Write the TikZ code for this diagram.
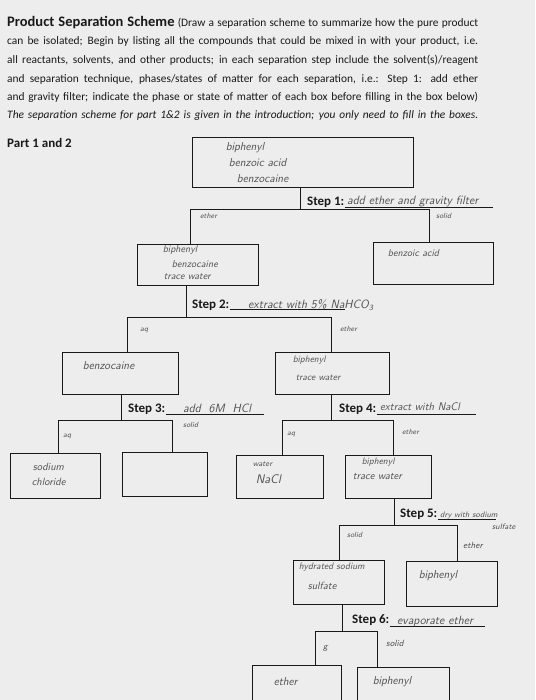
\documentclass[tikz,border=0pt]{standalone}
\usepackage{fontspec}
\setmainfont{Carlito}
\usetikzlibrary{calc}
\definecolor{hartie}{gray}{0.93}
\definecolor{creion}{gray}{0.32}
\definecolor{cerneala}{gray}{0.10}
\tikzset{
  cutie/.style    = {draw=cerneala, line width=0.9pt, inner sep=0pt},
  linie/.style    = {draw=cerneala, line width=0.9pt},
  sublinie/.style = {draw=cerneala, line width=0.7pt},
  rand/.style     = {font=\fontsize{11.4}{13}\selectfont, text=cerneala, inner sep=0pt, anchor=base west},
  pas/.style      = {font=\fontsize{13}{15}\selectfont\bfseries, text=cerneala, inner sep=0pt, anchor=base west},
  scris/.style    = {font=\fontsize{10}{12}\sffamily\itshape\selectfont, text=creion, inner sep=0pt, anchor=west},
  mic/.style      = {scris, font=\fontsize{7.5}{9}\sffamily\itshape\selectfont}
}
\begin{document}
\begin{tikzpicture}[x=1pt, y=-1pt]
  \useasboundingbox (0,0) rectangle (535,700);
  \clip (0,0) rectangle (535,700);
  \fill[hartie] (0,0) rectangle (535,700);

  % antet
  \node[rand] (r1) at (7,27) {\makebox[471pt][s]{{\fontsize{14.5}{16}\selectfont\bfseries Product Separation Scheme} (Draw a separation scheme to summarize how the pure product}};
  \node[rand] (r2) at (7,45) {\makebox[471pt][s]{can be isolated; Begin by listing all the compounds that could be mixed in with your product, i.e.}};
  \node[rand] (r3) at (7,64) {\makebox[471pt][s]{all reactants, solvents, and other products; in each separation step include the solvent(s)/reagent}};
  \node[rand] (r4) at (7,83) {\makebox[471pt][s]{and separation technique, phases/states of matter for each separation, i.e.: Step 1: add ether}};
  \node[rand] (r5) at (7,101) {\makebox[471pt][s]{and gravity filter; indicate the phase or state of matter of each box before filling in the box below)}};
  \node[rand] (r6) at (7,119) {\makebox[471pt][s]{\itshape The separation scheme for part 1\&2 is given in the introduction; you only need to fill in the boxes.}};
  \node[rand, font=\fontsize{13}{15}\selectfont\bfseries] (parte) at (7,148) {Part 1 and 2};

  % cutii
  \node[cutie, minimum width=221, minimum height=50] (amestec) at (302.5,162) {};
  \node[cutie, minimum width=121, minimum height=41] (eter1) at (197.5,264.5) {};
  \node[cutie, minimum width=120, minimum height=42] (acid) at (433,263) {};
  \node[cutie, minimum width=116, minimum height=42] (benzo) at (120,373) {};
  \node[cutie, minimum width=114, minimum height=42] (bifenil1) at (332,373) {};
  \node[cutie, minimum width=90, minimum height=45] (clorura) at (55,475.5) {};
  \node[cutie, minimum width=85, minimum height=44] (gol) at (164.5,474) {};
  \node[cutie, minimum width=87, minimum height=43] (apa) at (279.5,476.5) {};
  \node[cutie, minimum width=86, minimum height=43] (bifenil2) at (388,476.5) {};
  \node[cutie, minimum width=91, minimum height=44] (sulfat) at (338.5,582) {};
  \node[cutie, minimum width=91, minimum height=45] (bifenil3) at (451.5,583.5) {};
  \node[cutie, minimum width=89, minimum height=47] (eter2) at (296.5,688.5) {};
  \node[cutie, minimum width=92, minimum height=47] (bifenil4) at (403,690.5) {};

  % ramificatii
  \coordinate (j1) at (300,209);
  \coordinate (j1a) at (190,209);
  \coordinate (j1b) at (429,209);
  \draw[linie] (j1 |- amestec.south) -- (j1);
  \draw[linie] (j1a |- eter1.north) -- (j1a) -- (j1b) -- (j1b |- acid.north);

  \coordinate (j2) at (186,317);
  \coordinate (j2a) at (127,317);
  \coordinate (j2b) at (331,317);
  \draw[linie] (j2 |- eter1.south) -- (j2);
  \draw[linie] (j2a |- benzo.north) -- (j2a) -- (j2b) -- (j2b |- bifenil1.north);

  \coordinate (j3) at (121,420);
  \coordinate (j3a) at (58,420);
  \coordinate (j3b) at (172,420);
  \draw[linie] (j3 |- benzo.south) -- (j3);
  \draw[linie] (j3a |- clorura.north) -- (j3a) -- (j3b) -- (j3b |- gol.north);

  \coordinate (j4) at (331,420);
  \coordinate (j4a) at (282,420);
  \coordinate (j4b) at (393,420);
  \draw[linie] (j4 |- bifenil1.south) -- (j4);
  \draw[linie] (j4a |- apa.north) -- (j4a) -- (j4b) -- (j4b |- bifenil2.north);

  \coordinate (j5) at (394,525);
  \coordinate (j5a) at (339,525);
  \coordinate (j5b) at (457,525);
  \draw[linie] (j5 |- bifenil2.south) -- (j5);
  \draw[linie] (j5a |- sulfat.north) -- (j5a) -- (j5b) -- (j5b |- bifenil3.north);

  \coordinate (j6) at (342,631);
  \coordinate (j6a) at (315,631);
  \coordinate (j6b) at (377,631);
  \draw[linie] (j6 |- sulfat.south) -- (j6);
  \draw[linie] (j6a |- eter2.north) -- (j6a) -- (j6b) -- (j6b |- bifenil4.north);

  % pasii
  \node[pas] (p1) at (307,206) {Step 1:};
  \node[pas] (p2) at (192,308) {Step 2:};
  \node[pas] (p3) at (128,412) {Step 3:};
  \node[pas] (p4) at (339,412) {Step 4:};
  \node[pas] (p5) at (400,517) {Step 5:};
  \node[pas] (p6) at (352,623) {Step 6:};
  \draw[sublinie] ([yshift=-1pt]p1.base east) -- ++(148,0);
  \draw[sublinie] ([yshift=-1pt]p2.base east) -- ++(115,0);
  \draw[sublinie] ([yshift=-2pt]p3.base east) -- ++(98,0);
  \draw[sublinie] ([yshift=-2pt]p4.base east) -- ++(99,0);
  \draw[sublinie] ([yshift=-2pt]p5.base east) -- ++(58,0);
  \draw[sublinie] ([yshift=-3pt]p6.base east) -- ++(95,0);

  % scris de mana la pasi
  \node[scris, font=\fontsize{12}{14}\sffamily\itshape\selectfont] (s1) at (347,202) {add ether and gravity filter};
  \node[scris, font=\fontsize{12}{14}\sffamily\itshape\selectfont] (s2) at (248,305) {extract with 5\% NaHCO\textsubscript{3}};
  \node[scris, font=\fontsize{12}{14}\sffamily\itshape\selectfont] (s3) at (183,408) {add \ 6M \ HCl};
  \node[scris, font=\fontsize{11}{13}\sffamily\itshape\selectfont] (s4) at (380,407) {extract with NaCl};
  \node[mic, font=\fontsize{8}{9}\sffamily\itshape\selectfont] (s5a) at (440,516) {dry with sodium};
  \node[mic, font=\fontsize{8}{9}\sffamily\itshape\selectfont] (s5b) at (492,527) {sulfate};
  \node[scris, font=\fontsize{12}{14}\sffamily\itshape\selectfont] (s6) at (397,621) {evaporate ether};

  % faze
  \node[mic] (f1a) at (200,216) {ether};
  \node[mic] (f1b) at (436,216) {solid};
  \node[mic] (f2a) at (140,331) {aq};
  \node[mic] (f2b) at (340,329) {ether};
  \node[mic] (f3a) at (63,437) {aq};
  \node[mic] (f3b) at (183,425) {solid};
  \node[mic] (f4a) at (287,435) {aq};
  \node[mic] (f4b) at (402,432) {ether};
  \node[mic] (f5a) at (347,535) {solid};
  \node[mic, font=\fontsize{9}{11}\sffamily\itshape\selectfont] (f5b) at (463,545) {ether};
  \node[mic, font=\fontsize{9}{11}\sffamily\itshape\selectfont] (f6a) at (323,648) {g};
  \node[mic, font=\fontsize{9}{11}\sffamily\itshape\selectfont] (f6b) at (386,643) {solid};

  % continutul cutiilor
  \node[scris, font=\fontsize{11.5}{13}\sffamily\itshape\selectfont] (c1) at ($(amestec.north west)+(34,11)$) {biphenyl};
  \node[scris, font=\fontsize{11.5}{13}\sffamily\itshape\selectfont] (c2) at ($(amestec.north west)+(37,26)$) {benzoic acid};
  \node[scris, font=\fontsize{11.5}{13}\sffamily\itshape\selectfont] (c3) at ($(amestec.north west)+(45,42)$) {benzocaine};
  \node[scris] (c4) at ($(eter1.north west)+(26,7)$) {biphenyl};
  \node[scris] (c5) at ($(eter1.north west)+(35,21)$) {benzocaine};
  \node[scris] (c6) at ($(eter1.north west)+(27,33)$) {trace water};
  \node[scris] (c7) at ($(acid.north west)+(15,12)$) {benzoic acid};
  \node[scris, font=\fontsize{11.5}{13}\sffamily\itshape\selectfont] (c8) at ($(benzo.north west)+(21,14)$) {benzocaine};
  \node[scris, font=\fontsize{9.5}{11}\sffamily\itshape\selectfont] (c9) at ($(bifenil1.north west)+(18,9)$) {biphenyl};
  \node[scris, font=\fontsize{9.5}{11}\sffamily\itshape\selectfont] (c10) at ($(bifenil1.north west)+(21,26)$) {trace water};
  \node[scris, font=\fontsize{10.5}{12}\sffamily\itshape\selectfont] (c11) at ($(clorura.north west)+(23,14)$) {sodium};
  \node[scris, font=\fontsize{10.5}{12}\sffamily\itshape\selectfont] (c12) at ($(clorura.north west)+(22,29)$) {chloride};
  \node[mic, font=\fontsize{8}{9}\sffamily\itshape\selectfont] (c13) at ($(apa.north west)+(17,10)$) {water};
  \node[scris, font=\fontsize{12.5}{14}\sffamily\itshape\selectfont] (c14) at ($(apa.north west)+(20,25)$) {NaCl};
  \node[scris, font=\fontsize{9.5}{11}\sffamily\itshape\selectfont] (c15) at ($(bifenil2.north west)+(17,8)$) {biphenyl};
  \node[scris, font=\fontsize{10.5}{12}\sffamily\itshape\selectfont] (c16) at ($(bifenil2.north west)+(8,22)$) {trace water};
  \node[scris, font=\fontsize{9.5}{11}\sffamily\itshape\selectfont] (c17) at ($(sulfat.north west)+(6,8)$) {hydrated sodium};
  \node[scris, font=\fontsize{10.5}{12}\sffamily\itshape\selectfont] (c18) at ($(sulfat.north west)+(15,26)$) {sulfate};
  \node[scris, font=\fontsize{11.5}{13}\sffamily\itshape\selectfont] (c19) at ($(bifenil3.north west)+(13,15)$) {biphenyl};
  \node[scris, font=\fontsize{11.5}{13}\sffamily\itshape\selectfont] (c20) at ($(eter2.north west)+(22,17)$) {ether};
  \node[scris, font=\fontsize{11.5}{13}\sffamily\itshape\selectfont] (c21) at ($(bifenil4.north west)+(16,15)$) {biphenyl};
\end{tikzpicture}
\end{document}
